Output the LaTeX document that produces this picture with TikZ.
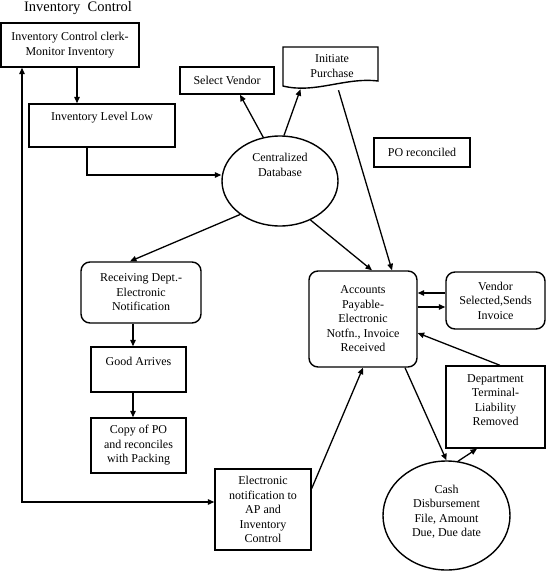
\documentclass[tikz,border=0pt]{standalone}
\usepackage{fontspec}
\setmainfont{Liberation Serif}
\usetikzlibrary{arrows.meta,shapes.geometric}
\begin{document}
\begin{tikzpicture}[x=1pt,y=-1pt,
  font=\fontsize{12}{14.5}\selectfont,
  every node/.style={inner sep=0pt, align=center},
  box/.style={draw, line width=1.4pt, rectangle},
  rbox/.style={draw, line width=1.4pt, rectangle, rounded corners=9pt},
  ell/.style={draw, line width=1.4pt, ellipse},
  arr/.style={line width=1.3pt, -{Triangle[length=6.5pt,width=5.5pt]}},
  arrtwo/.style={line width=1.3pt, {Triangle[length=6.5pt,width=5.5pt]}-{Triangle[length=6.5pt,width=5.5pt]}}]
\useasboundingbox (0,0) rectangle (546,573);

\node[font=\fontsize{14.5}{17}\selectfont] (title) at (78,8) {Inventory\ \ Control};

\node[box, minimum width=138pt, minimum height=44pt] (b1) at (70,45) {Inventory Control clerk-\\Monitor Inventory};
\node[box, minimum width=146pt, minimum height=43pt] (b2) at (102,125.5) {};
\node (b2t) at (102,118) {Inventory Level Low};
\node[box, minimum width=94pt, minimum height=27pt] (sv) at (227,80.5) {Select Vendor};
\node[minimum width=95pt, minimum height=40pt] (ip) at (330.5,67) {};
\draw[line width=1.4pt] (283,47) -- (378,47) -- (378,81) .. controls (345,77) and (315,94) .. (283,86) -- cycle;
\node (ipt) at (332,66) {Initiate\\Purchase};
\node[ell, minimum width=116pt, minimum height=90pt] (db) at (280,181) {};
\node (dbt) at (280,165) {Centralized\\Database};
\node[box, minimum width=96pt, minimum height=29pt] (po) at (422,152.5) {PO reconciled};
\node[rbox, minimum width=120pt, minimum height=61pt] (rec) at (141,292.5) {Receiving Dept.-\\Electronic\\Notification};
\node[box, minimum width=95pt, minimum height=45pt] (ga) at (138.5,369.5) {};
\node (gat) at (138.5,361) {Good Arrives};
\node[box, minimum width=95pt, minimum height=55pt] (cp) at (138.5,445.5) {Copy of PO\\and reconciles\\with Packing};
\node[box, minimum width=96pt, minimum height=81pt] (en) at (263,509.5) {Electronic\\notification to\\AP and\\Inventory\\Control};
\node[rbox, minimum width=108pt, minimum height=96pt] (ap) at (363,319) {Accounts\\Payable-\\Electronic\\Notfn., Invoice\\Received};
\node[rbox, minimum width=99pt, minimum height=57pt] (vs) at (495.5,300.5) {Vendor\\Selected,Sends\\Invoice};
\node[box, minimum width=99pt, minimum height=82pt] (dp) at (495.5,407) {};
\node (dpt) at (495.5,400) {Department\\Terminal-\\Liability\\Removed};
\node[ell, minimum width=127pt, minimum height=109pt] (cash) at (446.5,515.5) {};
\node (casht) at (446.5,512) {Cash\\Disbursement\\File, Amount\\Due, Due date};

\draw[arr] ([xshift=7pt]b1.south) -- ([xshift=7pt]b1.south |- b2.north);
\draw[arr] ([xshift=-15pt]b2.south) |- ([yshift=6pt]db.west);
\draw[arr] (db.111) -- ([xshift=13pt]sv.south);
\draw[arr] (db.85) -- ([xshift=-30pt,yshift=-2pt]ip.south);
\draw[arr] ([xshift=8pt,yshift=-3pt]ip.south) -- ([xshift=29pt]ap.north);
\draw[arr] (db.-52) -- ([xshift=9pt]ap.north);
\draw[arr] (db.-140) -- ([xshift=-11pt]rec.north);
\draw[arr] ([xshift=-8pt]rec.south) -- ([xshift=-5.5pt]ga.north);
\draw[arr] ([xshift=-5.5pt]ga.south) -- ([xshift=-5.5pt]cp.north);
\draw[arrtwo] ([xshift=-48pt]b1.south) |- ([yshift=7.5pt]en.west);
\draw[arr] ([yshift=21pt]en.east) -- (ap.south);
\draw[arr] ([yshift=7.5pt]vs.west) -- ([yshift=7.5pt]vs.west -| ap.east);
\draw[arr] ([yshift=-6.5pt]vs.west -| ap.east) -- ([yshift=-6.5pt]vs.west);
\draw[arr] ([xshift=4.5pt]dp.north) -- ([yshift=-14pt]ap.east);
\draw[arr] ([xshift=42pt]ap.south) -- (cash.north);
\draw[arr] (cash.78) -- ([xshift=-18.5pt]dp.south);
\end{tikzpicture}
\end{document}
